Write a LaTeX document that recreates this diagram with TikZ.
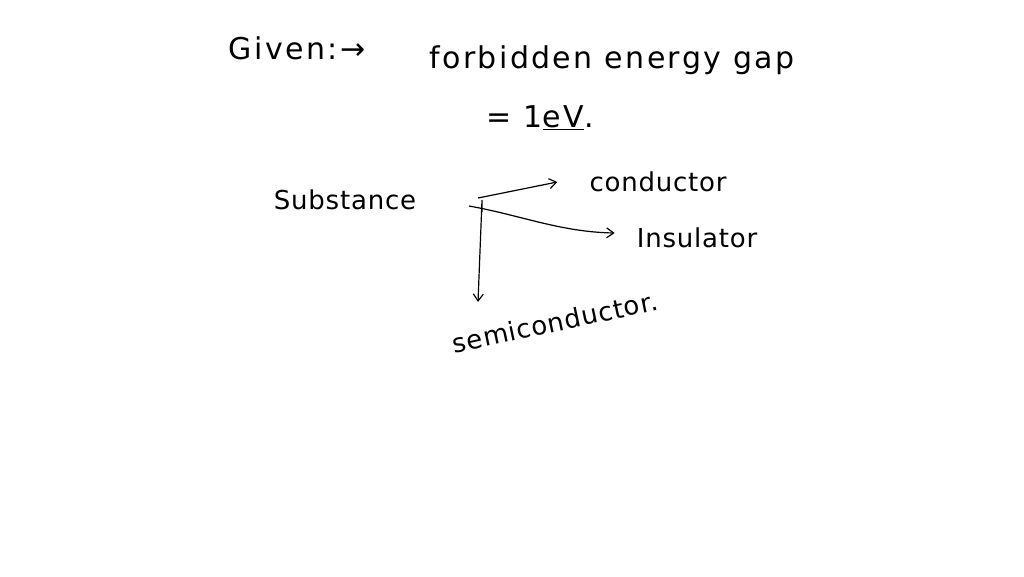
\documentclass[tikz,border=0pt]{standalone}
\usepackage{fontspec}
\setmainfont{DejaVu Sans}
\usetikzlibrary{arrows.meta}
\begin{document}
\begin{tikzpicture}[x=1pt,y=-1pt,
  hw/.style={font=\fontsize{26}{30}\selectfont\addfontfeatures{LetterSpace=3}, inner sep=0pt, anchor=center},
  big/.style={hw, font=\fontsize{30}{34}\selectfont\addfontfeatures{LetterSpace=8}},
  arr/.style={line width=1.2pt, -{Straight Barb[length=7pt,width=10pt]}}]
\useasboundingbox (0,0) rectangle (1024,576);
\fill[white] (0,0) rectangle (1024,576);
\node[big] (given) at (297,48) {Given:→};
\node[big] (gap) at (612,60) {forbidden energy gap};
\node[big] (ev) at (540,118) {= 1\underline{eV}.};
\node[hw] (sub) at (345,200) {Substance};
\node[hw] (con) at (658,182) {conductor};
\node[hw] (ins) at (697,238) {Insulator};
\node[hw, rotate=12] (semi) at (555,322) {semiconductor.};
\coordinate (br) at (478,198);
\coordinate (bt) at (482,212);
\coordinate (bc) at (478,302);
\draw[arr] (br) -- ([xshift=-32pt]con.west);
\draw[arr] (469,206) .. controls (520,215) and (560,232) .. ([xshift=-22pt,yshift=5pt]ins.west);
\draw[arr] (bt) -- (482,200) -- (bc);
\end{tikzpicture}
\end{document}
